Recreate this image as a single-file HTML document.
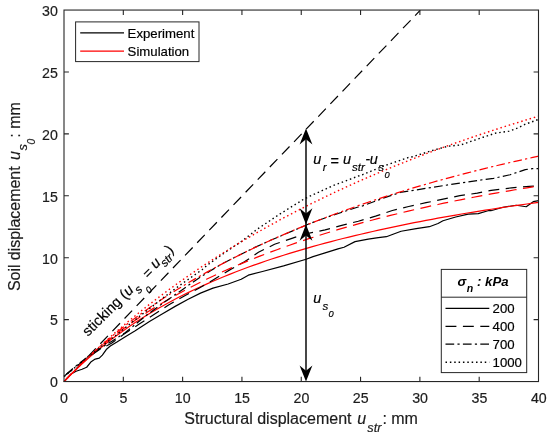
<!DOCTYPE html>
<html lang="en"><head><meta charset="utf-8"><title>Soil displacement vs structural displacement</title>
<style>html,body{margin:0;padding:0;background:#fff}svg{display:block}text{font-family:"Liberation Sans",sans-serif;fill:#1c1c1c;stroke:#1c1c1c;stroke-width:0.18px}.i{font-style:italic}.k,.k text{fill:#000;stroke:#000}</style>
</head><body>
<svg width="550" height="437" viewBox="0 0 550 437">
<rect width="550" height="437" fill="#fff"/>
<g fill="none" stroke-width="1.2" stroke-linejoin="round">
<path d="M64.00 381.60 L420.10 10.40" stroke="#000" stroke-dasharray="10.95 6.54"/>
<path d="M64.00 381.60 L71.60 373.68 L76.11 371.21 L82.04 369.23 L86.67 367.25 L91.18 361.68 L95.22 359.08 L99.25 358.09 L102.34 355.12 L106.26 349.55 L110.29 345.96 L116.94 342.01 L125.72 336.44 L135.22 330.75 L149.46 321.59 L163.00 313.55 L175.58 306.12 L188.16 299.19 L200.50 293.13 L212.97 288.18 L228.16 283.97 L241.22 279.27 L248.34 275.19 L262.47 271.48 L283.59 265.91 L306.15 259.23 L313.03 256.63 L325.14 252.92 L337.96 248.83 L344.01 247.23 L355.05 241.66 L368.23 239.18 L378.32 237.70 L386.39 236.71 L393.04 234.23 L401.11 231.26 L416.18 228.67 L429.36 226.69 L438.02 223.47 L443.01 220.75 L455.71 217.03 L468.17 214.19 L478.26 213.69 L488.00 210.72 L490.96 210.72 L503.07 207.26 L516.13 205.28 L526.22 206.76 L533.22 201.69 L538.80 200.58" stroke="#000"/>
<path d="M64.00 381.60 L69.94 375.54 L75.87 369.73 L81.81 364.14 L87.74 358.78 L93.67 353.63 L99.61 348.68 L105.54 343.91 L111.48 339.32 L117.41 334.90 L123.35 330.64 L129.28 326.53 L135.22 322.57 L141.16 318.75 L147.09 315.05 L153.02 311.48 L158.96 308.03 L164.89 304.70 L170.83 301.47 L176.76 298.34 L182.70 295.31 L188.63 292.37 L194.57 289.52 L200.50 286.76 L206.44 284.08 L212.37 281.47 L218.31 278.94 L224.24 276.48 L230.18 274.09 L236.11 271.77 L242.05 269.50 L247.98 267.30 L253.92 265.15 L259.85 263.06 L265.79 261.03 L271.73 259.04 L277.66 257.10 L283.59 255.21 L289.53 253.36 L295.46 251.56 L301.40 249.80 L307.33 248.08 L313.27 246.40 L319.20 244.76 L325.14 243.15 L331.07 241.58 L337.01 240.04 L342.94 238.54 L348.88 237.06 L354.81 235.62 L360.75 234.21 L366.69 232.83 L372.62 231.47 L378.55 230.15 L384.49 228.84 L390.42 227.57 L396.36 226.32 L402.29 225.09 L408.23 223.89 L414.16 222.71 L420.10 221.55 L426.03 220.42 L431.97 219.30 L437.90 218.21 L443.84 217.14 L449.77 216.08 L455.71 215.05 L461.64 214.03 L467.58 213.03 L473.51 212.05 L479.45 211.09 L485.38 210.15 L491.32 209.22 L497.25 208.30 L503.19 207.41 L509.12 206.52 L515.06 205.66 L521.00 204.81 L526.93 203.97 L532.87 203.15 L538.80 202.34" stroke="#f00"/>
<path d="M64.00 376.28 L75.87 366.75 L87.74 357.47 L99.61 349.43 L111.48 343.24 L123.35 334.58 L139.26 324.06 L153.97 314.54 L168.57 305.01 L183.89 296.22 L199.32 288.06 L214.27 279.27 L230.18 269.62 L244.42 261.83 L258.43 252.30 L274.57 244.26 L291.19 238.56 L306.15 233.74 L325.14 229.90 L341.76 225.32 L358.26 221.24 L375.59 216.17 L392.32 210.48 L408.70 206.52 L426.03 202.68 L440.75 199.71 L459.86 195.63 L477.31 193.15 L491.20 190.31 L511.62 187.83 L529.30 186.35 L538.80 185.85" stroke="#000" stroke-dasharray="10.9 6.5"/>
<path d="M64.00 381.60 L69.94 375.29 L75.87 369.25 L81.81 363.46 L87.74 357.90 L93.67 352.55 L99.61 347.42 L105.54 342.47 L111.48 337.71 L117.41 333.11 L123.35 328.68 L129.28 324.40 L135.22 320.26 L141.16 316.25 L147.09 312.37 L153.02 308.62 L158.96 304.97 L164.89 301.44 L170.83 298.01 L176.76 294.67 L182.70 291.43 L188.63 288.28 L194.57 285.22 L200.50 282.23 L206.44 279.32 L212.37 276.49 L218.31 273.73 L224.24 271.03 L230.18 268.40 L236.11 265.84 L242.05 263.33 L247.98 260.88 L253.92 258.49 L259.85 256.15 L265.79 253.87 L271.73 251.63 L277.66 249.44 L283.59 247.30 L289.53 245.21 L295.46 243.16 L301.40 241.15 L307.33 239.18 L313.27 237.26 L319.20 235.37 L325.14 233.52 L331.07 231.71 L337.01 229.93 L342.94 228.19 L348.88 226.49 L354.81 224.81 L360.75 223.17 L366.69 221.56 L372.62 219.99 L378.55 218.44 L384.49 216.92 L390.42 215.43 L396.36 213.97 L402.29 212.53 L408.23 211.12 L414.16 209.74 L420.10 208.39 L426.03 207.06 L431.97 205.75 L437.90 204.47 L443.84 203.21 L449.77 201.97 L455.71 200.76 L461.64 199.57 L467.58 198.40 L473.51 197.25 L479.45 196.13 L485.38 195.02 L491.32 193.93 L497.25 192.87 L503.19 191.82 L509.12 190.79 L515.06 189.78 L521.00 188.79 L526.93 187.81 L532.87 186.86 L538.80 185.92" stroke="#f00" stroke-dasharray="10.9 6.5" stroke-dashoffset="15.2"/>
<path d="M64.00 376.03 L75.87 366.13 L87.74 356.85 L99.61 348.81 L111.48 341.39 L125.13 332.73 L147.09 314.78 L164.89 301.79 L181.63 290.16 L195.76 280.14 L210.48 270.73 L223.65 262.94 L238.96 255.27 L254.28 247.60 L270.54 240.30 L298.31 228.54 L308.05 224.21 L331.07 215.80 L357.31 207.26 L360.99 206.52 L384.73 197.61 L401.82 192.04 L409.42 191.05 L433.16 187.21 L458.08 183.38 L483.13 179.67 L493.69 178.31 L510.07 174.72 L525.27 169.64 L532.27 168.65 L538.80 168.53" stroke="#000" stroke-dasharray="8.7 3.25 2.2 3.25" stroke-dashoffset="14.4"/>
<path d="M64.00 381.60 L69.94 375.28 L75.87 369.18 L81.81 363.30 L87.74 357.61 L93.67 352.11 L99.61 346.78 L105.54 341.62 L111.48 336.61 L117.41 331.75 L123.35 327.04 L129.28 322.45 L135.22 317.99 L141.16 313.65 L147.09 309.43 L153.02 305.31 L158.96 301.29 L164.89 297.37 L170.83 293.55 L176.76 289.82 L182.70 286.17 L188.63 282.61 L194.57 279.12 L200.50 275.71 L206.44 272.37 L212.37 269.11 L218.31 265.91 L224.24 262.77 L230.18 259.70 L236.11 256.69 L242.05 253.74 L247.98 250.85 L253.92 248.01 L259.85 245.22 L265.79 242.49 L271.73 239.81 L277.66 237.17 L283.59 234.58 L289.53 232.04 L295.46 229.55 L301.40 227.10 L307.33 224.69 L313.27 222.32 L319.20 220.00 L325.14 217.71 L331.07 215.47 L337.01 213.26 L342.94 211.09 L348.88 208.95 L354.81 206.85 L360.75 204.79 L366.69 202.76 L372.62 200.76 L378.55 198.80 L384.49 196.86 L390.42 194.96 L396.36 193.09 L402.29 191.25 L408.23 189.44 L414.16 187.66 L420.10 185.91 L426.03 184.19 L431.97 182.49 L437.90 180.82 L443.84 179.18 L449.77 177.56 L455.71 175.97 L461.64 174.40 L467.58 172.86 L473.51 171.35 L479.45 169.85 L485.38 168.38 L491.32 166.94 L497.25 165.52 L503.19 164.11 L509.12 162.74 L515.06 161.38 L521.00 160.04 L526.93 158.73 L532.87 157.43 L538.80 156.16" stroke="#f00" stroke-dasharray="8.7 3.25 2.2 3.25" stroke-dashoffset="14.4"/>
<path d="M64.00 376.65 L75.87 366.75 L87.74 356.85 L99.61 347.57 L111.48 338.91 L135.22 319.73 L158.96 301.17 L178.07 286.57 L202.29 269.50 L207.98 264.67 L224.24 252.92 L242.17 240.92 L257.96 228.67 L280.03 213.94 L303.30 199.46 L309.95 196.12 L333.45 185.48 L358.02 176.20 L363.01 174.47 L384.49 165.69 L407.99 157.64 L412.98 156.65 L433.16 150.22 L448.23 146.14 L460.46 145.02 L483.13 137.23 L496.07 133.02 L509.12 131.16 L517.20 128.19 L525.27 124.23 L538.80 119.29" stroke="#000" stroke-dasharray="1.5 2.86" stroke-width="1.4"/>
<path d="M64.00 381.60 L69.94 375.44 L75.87 369.42 L81.81 363.53 L87.74 357.77 L93.67 352.13 L99.61 346.61 L105.54 341.20 L111.48 335.91 L117.41 330.72 L123.35 325.64 L129.28 320.65 L135.22 315.77 L141.16 310.97 L147.09 306.27 L153.02 301.65 L158.96 297.12 L164.89 292.67 L170.83 288.30 L176.76 284.01 L182.70 279.80 L188.63 275.66 L194.57 271.59 L200.50 267.59 L206.44 263.65 L212.37 259.79 L218.31 255.98 L224.24 252.24 L230.18 248.56 L236.11 244.94 L242.05 241.38 L247.98 237.88 L253.92 234.42 L259.85 231.03 L265.79 227.68 L271.73 224.39 L277.66 221.15 L283.59 217.96 L289.53 214.81 L295.46 211.71 L301.40 208.66 L307.33 205.66 L313.27 202.69 L319.20 199.78 L325.14 196.90 L331.07 194.07 L337.01 191.27 L342.94 188.52 L348.88 185.81 L354.81 183.13 L360.75 180.49 L366.69 177.89 L372.62 175.33 L378.55 172.80 L384.49 170.31 L390.42 167.86 L396.36 165.43 L402.29 163.04 L408.23 160.69 L414.16 158.36 L420.10 156.07 L426.03 153.81 L431.97 151.58 L437.90 149.38 L443.84 147.21 L449.77 145.07 L455.71 142.96 L461.64 140.88 L467.58 138.82 L473.51 136.80 L479.45 134.80 L485.38 132.82 L491.32 130.88 L497.25 128.96 L503.19 127.06 L509.12 125.19 L515.06 123.35 L521.00 121.53 L526.93 119.73 L532.87 117.96 L538.80 116.21" stroke="#f00" stroke-dasharray="1.5 2.86" stroke-width="1.4"/>
</g>
<g stroke="#262626" stroke-width="1.1" fill="none">
<rect x="64.00" y="10.05" width="474.50" height="371.50"/>
<path d="M123.31 381.55v-4.90 M123.31 10.05v4.90 M182.62 381.55v-4.90 M182.62 10.05v4.90 M241.94 381.55v-4.90 M241.94 10.05v4.90 M301.25 381.55v-4.90 M301.25 10.05v4.90 M360.56 381.55v-4.90 M360.56 10.05v4.90 M419.88 381.55v-4.90 M419.88 10.05v4.90 M479.19 381.55v-4.90 M479.19 10.05v4.90 M64.00 319.63h4.90 M538.50 319.63h-4.90 M64.00 257.72h4.90 M538.50 257.72h-4.90 M64.00 195.80h4.90 M538.50 195.80h-4.90 M64.00 133.88h4.90 M538.50 133.88h-4.90 M64.00 71.97h4.90 M538.50 71.97h-4.90 "/>
</g>
<g font-size="14.2">
<text x="64.00" y="403.30" text-anchor="middle">0</text>
<text x="123.35" y="403.30" text-anchor="middle">5</text>
<text x="182.70" y="403.30" text-anchor="middle">10</text>
<text x="242.05" y="403.30" text-anchor="middle">15</text>
<text x="301.40" y="403.30" text-anchor="middle">20</text>
<text x="360.75" y="403.30" text-anchor="middle">25</text>
<text x="420.10" y="403.30" text-anchor="middle">30</text>
<text x="479.45" y="403.30" text-anchor="middle">35</text>
<text x="538.80" y="403.30" text-anchor="middle">40</text>
<text x="57.80" y="387.30" text-anchor="end">0</text>
<text x="57.80" y="325.43" text-anchor="end">5</text>
<text x="57.80" y="263.57" text-anchor="end">10</text>
<text x="57.80" y="201.70" text-anchor="end">15</text>
<text x="57.80" y="139.83" text-anchor="end">20</text>
<text x="57.80" y="77.97" text-anchor="end">25</text>
<text x="57.80" y="16.10" text-anchor="end">30</text>
</g>
<g font-size="16"><text x="184.3" y="424.2">Structural displacement</text><text x="357.2" y="424.2" class="i">u</text><text x="367.3" y="431.9" class="i" font-size="12.8">str</text><text x="382.4" y="424.2">: mm</text></g>
<g font-size="16" transform="translate(19.5 291) rotate(-90)"><text x="0" y="0" textLength="124.6" lengthAdjust="spacing">Soil displacement</text><text x="131" y="0" class="i">u</text><text x="140.5" y="7.8" class="i" font-size="12.8">s</text><text x="146.4" y="15.5" class="i" font-size="10.2">0</text><text x="153.3" y="0">: mm</text></g>
<g><path d="M306.00 134.40 V375.60" stroke="#000" stroke-width="1.45" fill="none"/><path d="M306.00 128.40 L299.60 144.60 L306.00 139.30 L312.40 144.60 Z M306.00 224.50 L299.60 208.30 L306.00 213.60 L312.40 208.30 Z M306.00 224.50 L299.60 240.70 L306.00 235.40 L312.40 240.70 Z M306.00 381.60 L299.60 365.40 L306.00 370.70 L312.40 365.40 Z" fill="#000"/><g font-size="14.5" class="i k"><text x="313.3" y="164.1">u</text><text x="322.7" y="170.9" font-size="11.6">r</text><text x="330.5" y="165.7" font-style="normal">=</text><text x="343.1" y="164.1">u</text><text x="351.9" y="170.9" font-size="11.6">str</text><text x="365.6" y="164.1" font-style="normal">-</text><text x="369.8" y="164.1">u</text><text x="378.3" y="171.1" font-size="11.6">s</text><text x="384.6" y="177.8" font-size="9.3">0</text></g><g font-size="14.5" class="i k"><text x="313.2" y="302.9">u</text><text x="322.4" y="309.7" font-size="11.6">s</text><text x="328.5" y="316.7" font-size="9.3">0</text></g><g transform="translate(88.1 337.1) rotate(-45)" font-size="14.5" class="k"><text x="0" y="0">sticking (</text><text x="57.4" y="0" class="i">u</text><text x="66.3" y="5.8" class="i" font-size="11.6">s</text><text x="73.6" y="12.8" class="i" font-size="9.3">0</text><text x="83.4" y="1.7">=</text><text x="95.8" y="0" class="i">u</text><text x="103.6" y="5" class="i" font-size="11.6">str</text><text x="117.2" y="0">)</text></g></g>
<g><rect x="75.6" y="21.9" width="123.4" height="39.7" fill="#fff" stroke="#262626" stroke-width="1"/><path d="M80.2 32.8H124" stroke="#000" stroke-width="1.2"/><path d="M80.2 51.1H124" stroke="#f00" stroke-width="1.2"/><text x="127.6" y="38" font-size="13.2" class="k">Experiment</text><text x="127.6" y="55.9" font-size="13.2" class="k">Simulation</text></g>
<g><rect x="441.3" y="269.4" width="85.4" height="103.2" fill="#fff" stroke="#262626" stroke-width="1"/><path d="M441.3 297.2H526.7" stroke="#262626" stroke-width="1"/><text x="457.6" y="286" font-size="13.2" font-weight="bold" class="i k" style="stroke-width:0">σ<tspan font-size="10.6" dy="5.6" dx="0.5">n</tspan><tspan dy="-5.6"> : kPa</tspan></text><g stroke="#000" stroke-width="1.2" fill="none"><path d="M445.5 308.4H489.3"/><path d="M445.5 326.4H489.3" stroke-dasharray="10.9 6.5"/><path d="M445.5 344.2H489.3" stroke-dasharray="8.7 3.25 2.2 3.25"/><path d="M445.5 362.3H489.3" stroke-width="1.4" stroke-dasharray="1.5 2.86"/></g><g font-size="13.2" class="k"><text x="492.6" y="313.4">200</text><text x="492.6" y="331.2">400</text><text x="492.6" y="349">700</text><text x="492.6" y="367.1">1000</text></g></g>
</svg>
</body></html>
